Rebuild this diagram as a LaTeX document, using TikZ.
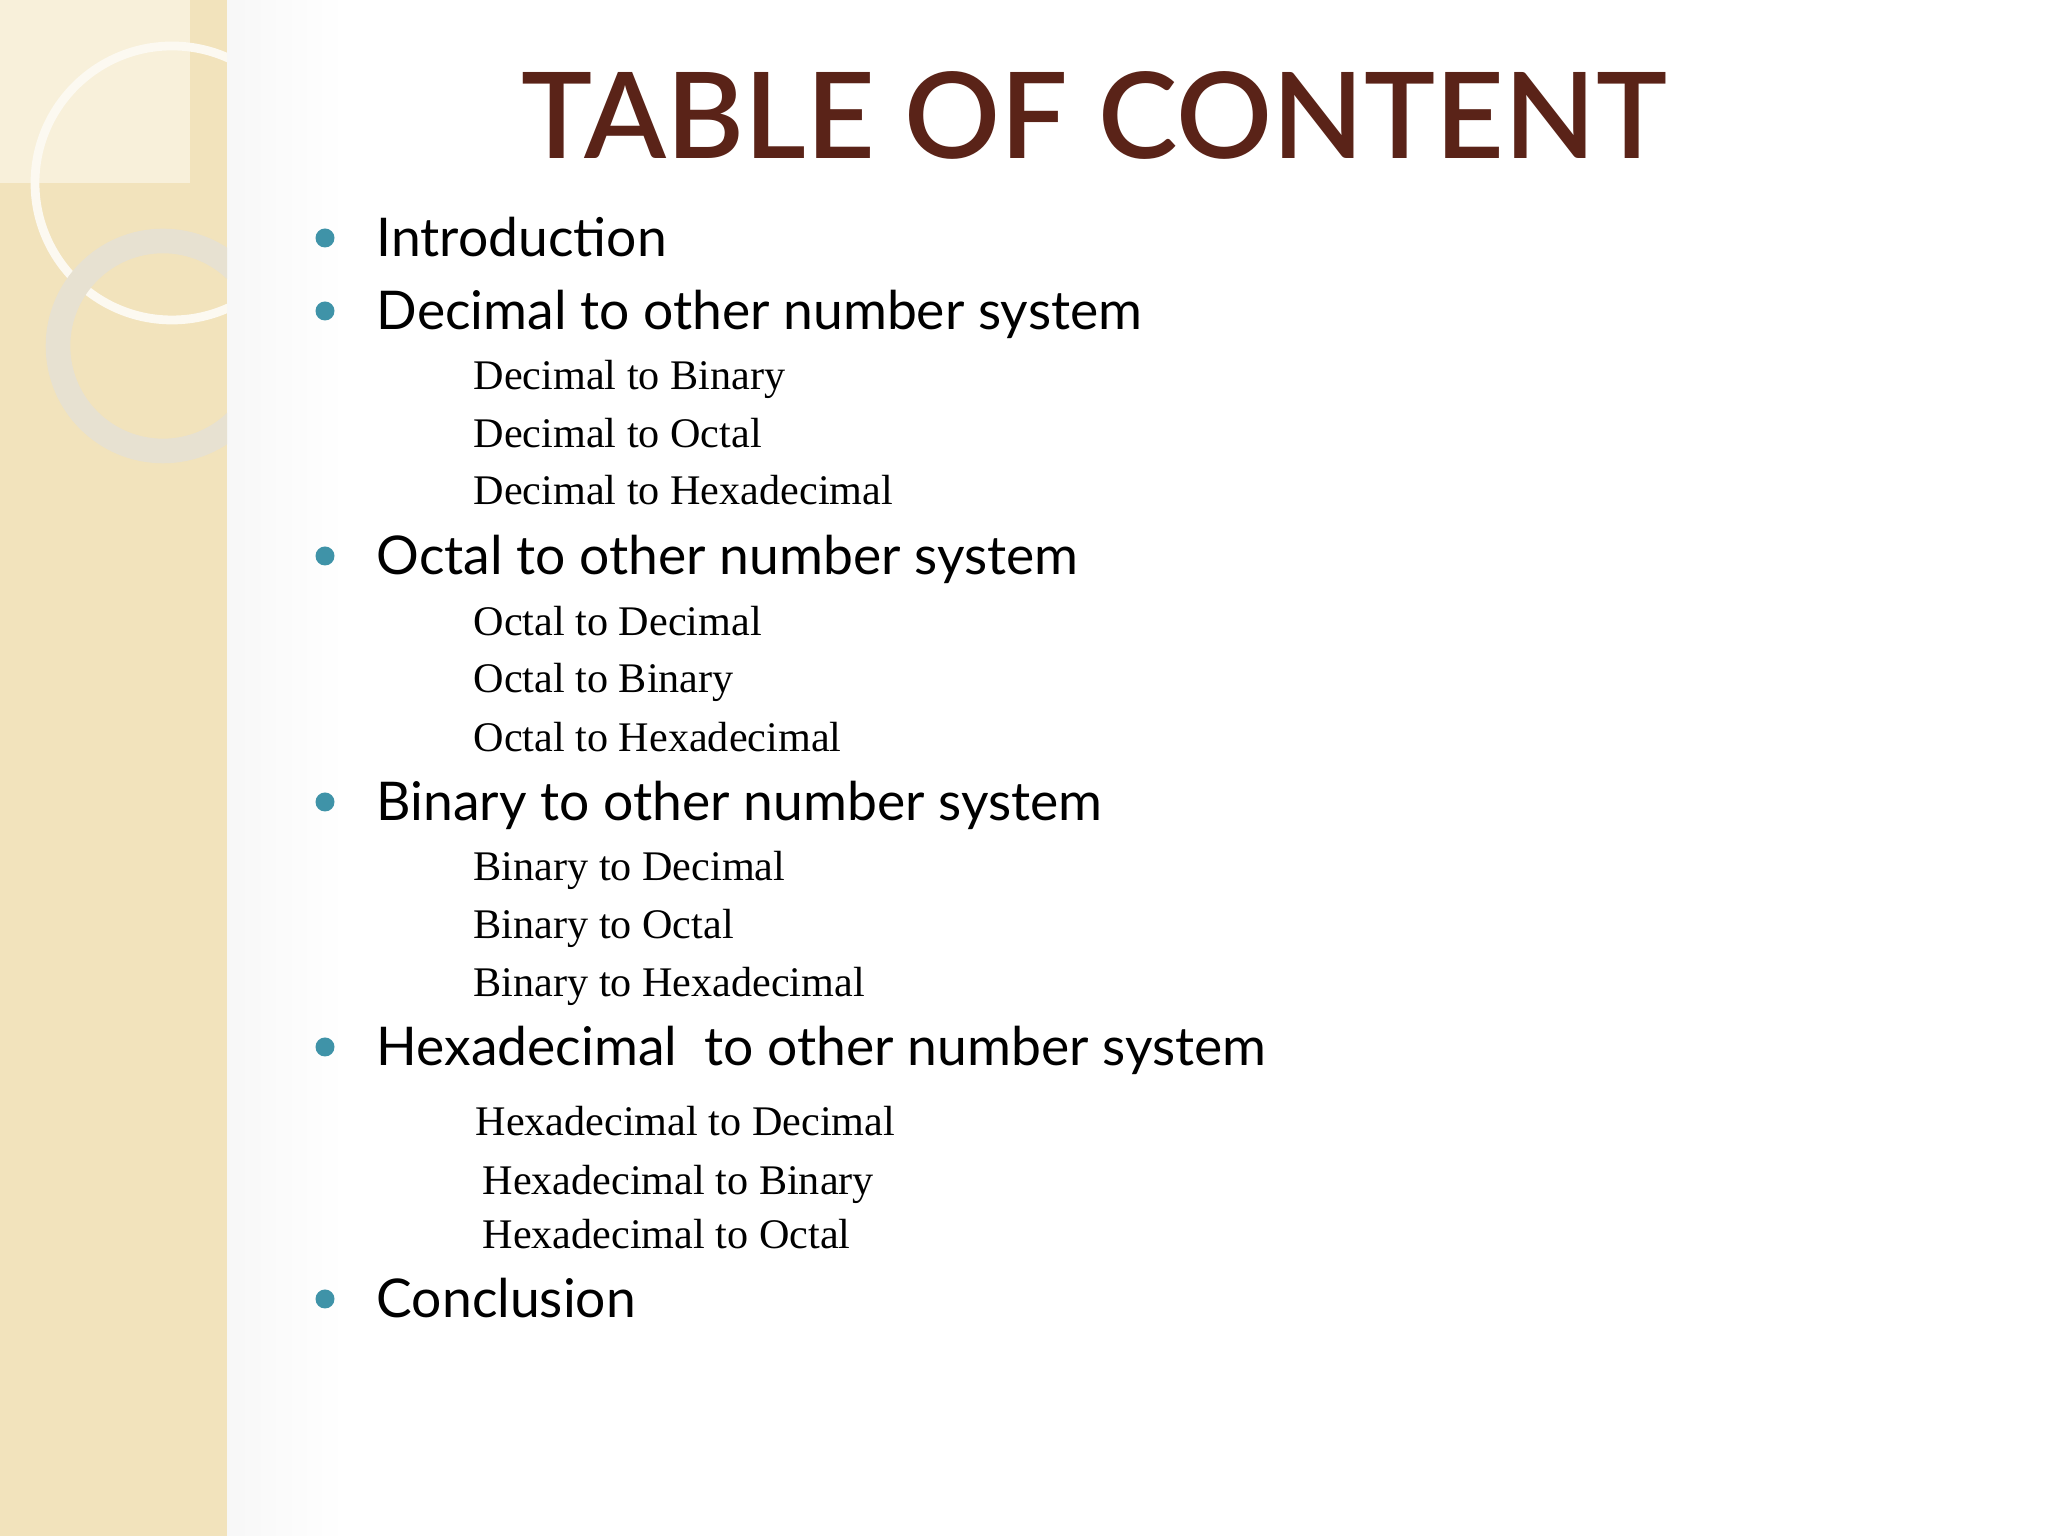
\documentclass[tikz,border=0pt]{standalone}
\usepackage{fontspec}
\setmainfont{Liberation Serif}
\newfontfamily\gill{Lato}
\newfontfamily\gillsb{Lato Semibold}
\definecolor{strip}{HTML}{F2E3BC}
\definecolor{ttl}{HTML}{5A2318}
\definecolor{bul}{HTML}{3F93A8}
\begin{document}
\begin{tikzpicture}[x=1cm,y=1cm,
  mainitem/.style={anchor=mid west,inner sep=0pt,font=\gill\fontsize{15.2}{18}\selectfont},
  subitem/.style={anchor=mid west,inner sep=0pt,font=\fontsize{12}{15}\selectfont},
  bulletdot/.style={circle,fill=bul,inner sep=0pt,minimum size=0.19cm}]
\useasboundingbox (0,0) rectangle (20.48,15.36);
\fill[white] (0,0) rectangle (20.48,15.36);
\shade[left color=gray!6,right color=white] (2.27,0) rectangle (3.45,15.36);
\fill[strip] (0,0) rectangle (2.27,15.36);
\begin{scope}
\clip (0,0) rectangle (2.27,15.36);
\fill[strip!55!white] (0,13.53) rectangle (1.9,15.36);
\draw[white!80!strip,line width=2.5pt] (1.72,13.53) circle (1.37);
\draw[white!75!gray!60!strip,line width=7pt] (1.63,11.90) circle (1.05);
\end{scope}
\node[font=\gillsb\fontsize{34}{40}\selectfont,text=ttl] (title) at (10.94,14.20) {TABLE OF CONTENT};
\foreach \n/\y/\t in {a/2.38/Introduction,b/3.11/Decimal to other number system,c/5.56/Octal to other number system,d/8.02/Binary to other number system,e/10.47/Hexadecimal\ \ to other number system,f/12.99/Conclusion}{
  \node[bulletdot] (dot\n) at (3.25,15.36-\y) {};
  \node[mainitem] (item\n) at (3.76,15.36-\y-0.1) {\t};
}
\foreach \n/\x/\y/\t in {b1/4.73/3.76/Decimal to Binary,b2/4.73/4.34/Decimal to Octal,b3/4.73/4.91/Decimal to Hexadecimal,
 c1/4.73/6.22/Octal to Decimal,c2/4.73/6.79/Octal to Binary,c3/4.73/7.38/Octal to Hexadecimal,
 d1/4.73/8.67/Binary to Decimal,d2/4.73/9.25/Binary to Octal,d3/4.73/9.83/Binary to Hexadecimal,
 e1/4.75/11.22/Hexadecimal to Decimal,e2/4.82/11.81/Hexadecimal to Binary,e3/4.82/12.35/Hexadecimal to Octal}{
  \node[subitem] (sub\n) at (\x,15.36-\y-0.05) {\t};
}
\end{tikzpicture}
\end{document}
